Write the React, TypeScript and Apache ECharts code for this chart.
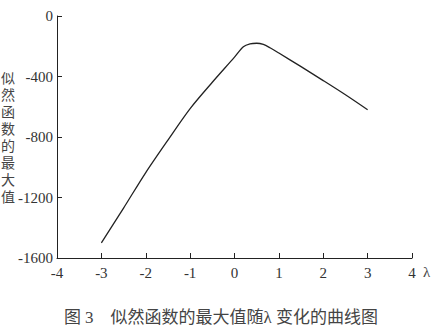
import React, { useEffect, useRef } from "react";
import * as echarts from "echarts";

const lambdaValues = [-3, -2.5, -2, -1.5, -1, -0.5, 0, 0.2, 0.35, 0.5, 0.65, 0.8, 1, 1.5, 2, 2.5, 3];
const maxLikelihood = [-1500, -1270, -1035, -820, -612, -438, -272, -203, -184, -180, -188, -210, -245, -335, -427, -521, -620];
const yTicks = { min: -1600, max: 0, interval: 400 };
const xTicks = { min: -4, max: 4, interval: 1 };
const yName = "似然函数的最大值";
const xName = "λ";
const caption = "图 3　似然函数的最大值随λ 变化的曲线图";

const serif = '"Liberation Serif", "Noto Sans CJK SC", serif';

export default function App() {
  const ref = useRef<HTMLDivElement>(null);
  useEffect(() => {
    if (!ref.current) return;
    const chart = echarts.init(ref.current, undefined, { renderer: "svg" });
    const data = lambdaValues.map((x, i) => [x, maxLikelihood[i]]);
    chart.setOption({
      animation: false,
      backgroundColor: "#fff",
      grid: { left: 57, right: 27, top: 16, bottom: 71, containLabel: false },
      xAxis: {
        type: "value",
        min: xTicks.min,
        max: xTicks.max,
        interval: xTicks.interval,
        axisLine: { onZero: false, lineStyle: { color: "#222", width: 1 } },
        axisTick: { inside: true, length: 5, lineStyle: { color: "#222" } },
        axisLabel: { color: "#333", fontSize: 15, fontFamily: serif, margin: 7 },
        splitLine: { show: false },
      },
      yAxis: {
        type: "value",
        min: yTicks.min,
        max: yTicks.max,
        interval: yTicks.interval,
        axisLine: { show: true, onZero: false, lineStyle: { color: "#222", width: 1 } },
        axisTick: { show: true, inside: true, length: 5, lineStyle: { color: "#222" } },
        axisLabel: {
          color: "#333",
          fontSize: 15,
          fontFamily: serif,
          margin: 4,
          formatter: (v: number) => String(v),
        },
        splitLine: { show: false },
      },
      graphic: [
        {
          type: "text",
          x: 8,
          y: 138,
          style: {
            text: yName.split("").join("\n"),
            fontSize: 14,
            lineHeight: 17,
            fill: "#444",
            fontFamily: serif,
            align: "center",
            verticalAlign: "middle",
          },
        },
        {
          type: "text",
          x: 423,
          y: 272,
          style: {
            text: xName,
            fontSize: 15,
            fill: "#444",
            fontFamily: serif,
            verticalAlign: "middle",
            align: "left",
          },
        },
        {
          type: "text",
          x: 221,
          y: 317,
          style: {
            text: caption,
            fontSize: 17,
            fill: "#444",
            fontFamily: serif,
            align: "center",
            verticalAlign: "middle",
          },
        },
      ],
      series: [
        {
          type: "line",
          data,
          smooth: 0.3,
          showSymbol: false,
          lineStyle: { color: "#222", width: 1.3 },
        },
      ],
    });
    return () => chart.dispose();
  }, []);
  return (
    <div
      ref={ref}
      style={{ position: "fixed", left: 0, top: 0, width: 439, height: 329 }}
    />
  );
}
